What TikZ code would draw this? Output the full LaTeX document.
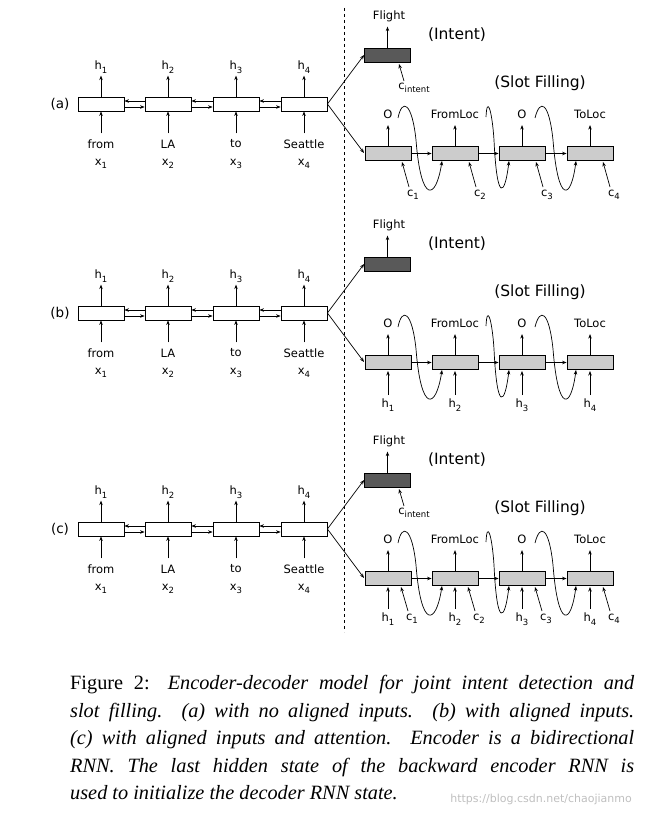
\documentclass[tikz,border=0pt]{standalone}
\usepackage{fontspec}
\setmainfont{Liberation Serif}
\newfontfamily\dv{DejaVu Sans}
\usetikzlibrary{arrows.meta}
\newcommand{\lb}[2]{#1\raisebox{-3.5pt}{\fontsize{8.5}{8}\selectfont #2}}
\begin{document}
\begin{tikzpicture}[x=1pt,y=-1pt,
  txt/.style={font=\dv\fontsize{11.5}{12}\selectfont,inner sep=0pt},
  big/.style={font=\dv\fontsize{15.5}{16}\selectfont,inner sep=0pt},
  enc/.style={draw,line width=0.8pt,fill=white,minimum width=46pt,minimum height=14pt,inner sep=0pt},
  dec/.style={draw,line width=0.8pt,fill=black!20,minimum width=46pt,minimum height=14pt,inner sep=0pt},
  intb/.style={draw,line width=0.8pt,fill=black!65,minimum width=46pt,minimum height=14pt,inner sep=0pt},
  ar/.style={-{Stealth[length=4.5pt,width=3.5pt]},line width=0.7pt},
  ln/.style={line width=0.7pt}]
\useasboundingbox (0,0) rectangle (647,816);
\draw[dashed,line width=0.7pt] (344,8) -- (344,632);
\foreach \p/\o/\t in {a/0/1,b/209/2,c/425/3}{
\begin{scope}[yshift=-\o pt]
\node[txt,font=\dv\fontsize{13.5}{14}\selectfont] (lab\p) at (60,104) {(\p)};
\foreach \i/\xx/\w in {1/101/from,2/168/LA,3/236/to,4/304/Seattle}{
  \node[enc] (e\p\i) at (\xx,104) {};
  \node[txt] (h\p\i) at (\xx,67) {\lb{h}{\i}};
  \draw[ar] (e\p\i.north) -- ++(0,-21);
  \node[txt] (w\p\i) at (\xx,144) {\w};
  \node[txt] (x\p\i) at (\xx,164) {\lb{x}{\i}};
  \draw[ar] ([yshift=-22pt]e\p\i.south) -- (e\p\i.south);
}
\foreach \i/\j in {1/2,2/3,3/4}{
  \draw[ar] ([yshift=-3pt]e\p\i.east) -- ([yshift=-3pt]e\p\j.west);
  \draw[ar] ([yshift=3pt]e\p\j.west) -- ([yshift=3pt]e\p\i.east);
}
\node[intb] (it\p) at (387.5,55) {};
\node[txt] (fl\p) at (389,16) {Flight};
\draw[ar] (it\p.north) -- ++(0,-21);
\node[big] (int\p) at (457,35) {(Intent)};
\node[big] (sf\p) at (540,83) {(Slot Filling)};
\draw[ar] (e\p4.east) -- (it\p.west);
\draw[ar] (e\p4.east) -- (364,153);
\foreach \i/\xx/\tg in {1/388/O,2/455/FromLoc,3/522/O,4/590/ToLoc}{
  \node[dec] (d\p\i) at (\xx,153.5) {};
  \node[txt] (o\p\i) at (\xx,114) {\tg};
  \draw[ar] (d\p\i.north) -- ++(0,-21);
}
\foreach \i/\j in {1/2,2/3,3/4}{ \draw[ar] (d\p\i.east) -- (d\p\j.west); }
\coordinate (s\p1) at (398,118); \coordinate (s\p2) at (486,117); \coordinate (s\p3) at (535,118);
\draw[ar] (s\p1) .. controls (402,98) and (412,102) .. (416,140) .. controls (421,205) and (436,200) .. (442,161);
\draw[ar] (s\p2) .. controls (487,95) and (492,110) .. (494,140) .. controls (497,205) and (505,195) .. (509,161);
\draw[ar] (s\p3) .. controls (540,98) and (549,102) .. (553,140) .. controls (558,205) and (571,200) .. (576,161);
\end{scope}
}
% panel a specifics
\node[txt] (cia) at (414,88) {\lb{c}{intent}};
\draw[ar] (404,81) -- (399,64);
\foreach \i/\xx in {1/413,2/480,3/547,4/614}{
  \node[txt] (ca\i) at (\xx,195) {\lb{c}{\i}};
  \draw[ar] (\xx-4,187) -- (\xx-11,162);
}
% panel b
\foreach \i/\xx in {1/388,2/455,3/522,4/590}{
  \node[txt] (hb\i) at (\xx,405) {\lb{h}{\i}};
  \draw[ar] (\xx,395) -- (\xx,371);
}
% panel c
\node[txt] (cic) at (414,513) {\lb{c}{intent}};
\draw[ar] (404,506) -- (399,489);
\foreach \i/\xx in {1/388,2/455,3/522,4/590}{
  \node[txt] (hc\i) at (\xx,619) {\lb{h}{\i}};
  \draw[ar] (\xx,609) -- (\xx,587);
  \node[txt] (cc\i) at (\xx+24,619) {\lb{c}{\i}};
  \draw[ar] (\xx+20,611) -- (\xx+13,587);
}
\node[anchor=north west,inner sep=0pt,text width=564pt,align=justify,font=\fontsize{20.3}{27.6}\selectfont] (cap) at (70,675)
{Figure 2: \textit{Encoder-decoder model for joint intent detection and\linebreak slot filling. (a) with no aligned inputs. (b) with aligned inputs.\linebreak (c) with aligned inputs and attention. Encoder is a bidirectional\linebreak RNN. The last hidden state of the backward encoder RNN is\linebreak used to initialize the decoder RNN state.}};
\node[anchor=east,inner sep=0pt,text=black!25,font=\dv\fontsize{11}{12}\selectfont] (wm) at (632,799) {https://blog.csdn.net/chaojianmo};
\end{tikzpicture}
\end{document}
